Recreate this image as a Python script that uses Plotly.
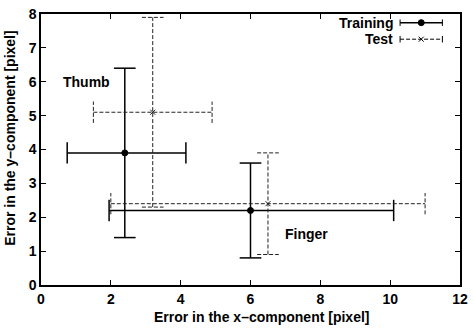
import plotly.graph_objects as go

# Data: Training and Test, two groups (Thumb, Finger)
groups = ["Thumb", "Finger"]
train_x = [2.4, 6.0]
train_y = [3.9, 2.2]
train_x_lo = [0.75, 1.95]
train_x_hi = [4.15, 10.1]
train_y_lo = [1.4, 0.8]
train_y_hi = [6.4, 3.6]

test_x = [3.2, 6.5]
test_y = [5.1, 2.4]
test_x_lo = [1.5, 2.0]
test_x_hi = [4.9, 11.0]
test_y_lo = [2.3, 0.9]
test_y_hi = [7.9, 3.9]

label_pos = {"Thumb": (1.3, 6.0), "Finger": (7.6, 1.5)}

FONT = "Liberation Sans, Arial, sans-serif"
TFONT = dict(family=FONT, size=14, color="black", weight="bold")
CAPX = 0.31  # half cap width in x units
CAPY = 0.315  # half cap height in y units
TEST_DASH = "4px,2px"

fig = go.Figure()


def add_errbars(xs, ys, xlo, xhi, ylo, yhi, color, width, dash, symbol, msize):
    for x, y, x0, x1, y0, y1 in zip(xs, ys, xlo, xhi, ylo, yhi):
        segs = [
            ([x0, x1], [y, y]),
            ([x0, x0], [y - CAPY, y + CAPY]),
            ([x1, x1], [y - CAPY, y + CAPY]),
            ([x, x], [y0, y1]),
            ([x - CAPX, x + CAPX], [y0, y0]),
            ([x - CAPX, x + CAPX], [y1, y1]),
        ]
        for sx, sy in segs:
            fig.add_trace(go.Scatter(x=sx, y=sy, mode="lines",
                                     line=dict(color=color, width=width, dash=dash),
                                     showlegend=False, hoverinfo="skip"))
    fig.add_trace(go.Scatter(x=xs, y=ys, mode="markers",
                             marker=dict(symbol=symbol, size=msize, color=color,
                                         line=dict(color=color, width=1)),
                             showlegend=False))


add_errbars(train_x, train_y, train_x_lo, train_x_hi, train_y_lo, train_y_hi,
            "black", 1.5, "solid", "circle", 6)
add_errbars(test_x, test_y, test_x_lo, test_x_hi, test_y_lo, test_y_hi,
            "#222222", 1, TEST_DASH, "x-thin", 5)

for g in groups:
    lx, ly = label_pos[g]
    fig.add_annotation(x=lx, y=ly, text=g, showarrow=False, font=TFONT)

# manual legend (text left, sample right)
legend_items = [("Training", 0.968, "solid", 1.5, "circle"),
                ("Test", 0.907, TEST_DASH, 1, "x-thin")]
for name, py, dash, w, sym in legend_items:
    fig.add_annotation(xref="paper", yref="paper", x=0.846, y=py, text=name,
                       showarrow=False, xanchor="right", yanchor="middle", font=TFONT)
    fig.add_shape(type="line", xref="paper", yref="paper", x0=0.857, x1=0.958,
                  y0=py, y1=py, line=dict(color="black", width=w, dash=dash))
    for xe in (0.857, 0.958):
        fig.add_shape(type="line", xref="paper", yref="paper", x0=xe, x1=xe,
                      y0=py - 0.012, y1=py + 0.012, line=dict(color="black", width=1))
    fig.add_trace(go.Scatter(x=[0.9075], y=[py], xaxis="x2", yaxis="y2", mode="markers",
                             marker=dict(symbol=sym, size=6 if sym == "circle" else 5,
                                         color="black", line=dict(color="black", width=1)),
                             showlegend=False, hoverinfo="skip"))

# axis titles
fig.add_annotation(xref="paper", yref="paper", x=0.526, y=-0.118,
                   text="Error in the x\u2013component [pixel]", showarrow=False,
                   xanchor="center", yanchor="middle", font=TFONT)
fig.add_annotation(xref="paper", yref="paper", x=-0.073, y=0.541,
                   text="Error in the y\u2013component [pixel]", showarrow=False,
                   xanchor="center", yanchor="middle", textangle=-90, font=TFONT)

fig.update_layout(
    width=474, height=331,
    margin=dict(l=41, r=7, t=6, b=46),
    paper_bgcolor="white", plot_bgcolor="white",
    showlegend=False,
    font=dict(family=FONT, size=14, color="black"),
    xaxis=dict(range=[0, 12], dtick=2, tick0=0, showgrid=False, zeroline=False,
               showline=True, linecolor="black", linewidth=1.5, mirror="ticks",
               ticks="inside", ticklen=5, tickcolor="black",
               ticklabeloverflow="allow", tickfont=TFONT),
    yaxis=dict(range=[0, 8], dtick=1, tick0=0, showgrid=False, zeroline=False,
               showline=True, linecolor="black", linewidth=1.5, mirror="ticks",
               ticks="inside", ticklen=5, tickcolor="black",
               ticklabeloverflow="allow", tickfont=TFONT),
    xaxis2=dict(range=[0, 1], overlaying="x", visible=False, domain=[0, 1]),
    yaxis2=dict(range=[0, 1], overlaying="y", visible=False),
)

fig.write_html("out.html")
